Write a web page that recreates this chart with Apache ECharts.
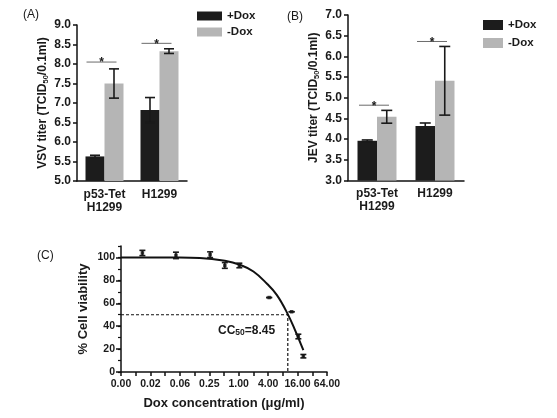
<!DOCTYPE html>
<html><head><meta charset="utf-8">
<script src="https://cdn.jsdelivr.net/npm/echarts@6/dist/echarts.min.js"></script>
<style>html,body{margin:0;padding:0;background:#fff}#c{width:557px;height:418px}</style>
</head><body><div id="c"></div>
<script>
// ---------- Panel A: VSV titer ----------
const categories = ['p53-Tet\nH1299', 'H1299'];
const vsvPlusDox = [5.63, 6.82];
const vsvPlusDoxErr = [0.03, 0.32];
const vsvMinusDox = [7.50, 8.33];
const vsvMinusDoxErr = [0.375, 0.06];
const vsvSigLevel = [8.05, 8.53];
// ---------- Panel B: JEV titer ----------
const jevPlusDox = [3.96, 4.32];
const jevPlusDoxErr = [0.02, 0.07];
const jevMinusDox = [4.54, 5.41];
const jevMinusDoxErr = [0.155, 0.83];
const jevSigLevel = [4.82, 6.36];
// ---------- Panel C: cell viability ----------
const doxConc = [0.0107, 0.052, 0.26, 0.52, 1.03, 4.2, 12.1, 16.6, 21.0];
const viability = [103.9, 101.8, 102.4, 93.0, 93.0, 65.0, 52.6, 31.0, 13.8];
const viabilityErr = [2.3, 2.8, 2.5, 2.5, 2.0, 0, 0, 2.0, 1.5];
const fitConc = [0.00390625, 0.05, 0.16, 0.52, 1.06, 2.0, 3.7, 6.0, 9.9, 14.2, 21.0];
const fitViability = [100, 99.9, 99.5, 97.1, 93.6, 87.7, 77.5, 67.3, 51.2, 36.6, 19.0];
const cc50GuideX = [0.00390625, 10.1, 10.1];
const cc50GuideY = [50, 50, 0];
const xTickLabels = ['0.00', '0.02', '0.06', '0.25', '1.00', '4.00', '16.00', '64.00'];
const xAllTicks = [0.00390625, 0.0078125, 0.015625, 0.03125, 0.0625, 0.125, 0.25, 0.5, 1, 2, 4, 8, 16, 32, 64];
const yMajorTicks = [0, 20, 40, 60, 80, 100];

const FONT = '"Liberation Sans", Arial, sans-serif';
const TXT = '#1a1a1a';
const BLACK = '#1c1c1c';
const GRAY = '#b5b5b5';

function errData(vals, errs) { return vals.map((v, i) => [i, v - errs[i], v + errs[i]]); }
function errRender(offsetPx, capHalf) {
  return function (params, api) {
    const lo = api.coord([api.value(0), api.value(1)]);
    const hi = api.coord([api.value(0), api.value(2)]);
    const x = lo[0] + offsetPx;
    const st = { stroke: '#1a1a1a', lineWidth: 1.6 };
    return { type: 'group', children: [
      { type: 'line', shape: { x1: x, y1: lo[1], x2: x, y2: hi[1] }, style: st },
      { type: 'line', shape: { x1: x - capHalf, y1: hi[1], x2: x + capHalf, y2: hi[1] }, style: st },
      { type: 'line', shape: { x1: x - capHalf, y1: lo[1], x2: x + capHalf, y2: lo[1] }, style: st }
    ]};
  };
}
function sigRender(params, api) {
  const p = api.coord([api.value(0), api.value(1)]);
  return { type: 'group', children: [
    { type: 'line', shape: { x1: p[0] - 18, y1: p[1], x2: p[0] + 12, y2: p[1] },
      style: { stroke: '#6a6a6a', lineWidth: 1 } },
    { type: 'text', x: p[0] - 3, y: p[1] + 1,
      style: { text: '*', fill: TXT, font: 'bold 12px ' + FONT, align: 'center', verticalAlign: 'middle' } }
  ]};
}
const axisLine = { lineStyle: { color: '#111', width: 1.5 } };
const axisTick = { length: 4, lineStyle: { color: '#111', width: 1.5 } };
const valLabel = { color: TXT, fontFamily: FONT, fontWeight: 'bold', fontSize: 12, margin: 6, formatter: v => v.toFixed(1) };
const catLabel = { color: TXT, fontFamily: FONT, fontWeight: 'bold', fontSize: 12, margin: 7, lineHeight: 13 };
function richName(txt1, sub, txt2, size) {
  return {
    name: '{n|' + txt1 + '}{s|' + sub + '}{n|' + txt2 + '}',
    style: { rich: {
      n: { fontFamily: FONT, fontWeight: 'bold', fontSize: size, color: TXT, lineHeight: 15, verticalAlign: 'bottom' },
      s: { fontFamily: FONT, fontWeight: 'bold', fontSize: size * 0.62, color: TXT, lineHeight: 9, verticalAlign: 'bottom' }
    } }
  };
}
const nameA = richName('VSV titer (TCID', '50', '/0.1ml)', 12);
const nameB = richName('JEV titer (TCID', '50', '/0.1ml)', 12);

const legendBase = {
  orient: 'vertical', padding: 0, icon: 'rect', data: ['+Dox', '-Dox'],
  textStyle: { color: TXT, fontFamily: FONT, fontWeight: 'bold', fontSize: 11.5 }
};

const option = {
  animation: false,
  backgroundColor: '#fff',
  legend: [
    Object.assign({}, legendBase, { left: 197, top: 10, itemWidth: 25, itemHeight: 9, itemGap: 4 }),
    Object.assign({}, legendBase, { left: 483, top: 19, itemWidth: 20, itemHeight: 10, itemGap: 6 })
  ],
  grid: [
    { left: 77, top: 25, width: 110, height: 156 },
    { left: 348, top: 15, width: 116, height: 165.5 },
    { left: 121, top: 246, width: 206, height: 126 }
  ],
  xAxis: [
    { type: 'category', gridIndex: 0, data: categories, axisLine, axisTick: Object.assign({ alignWithLabel: true }, axisTick), axisLabel: catLabel },
    { type: 'category', gridIndex: 1, data: categories, axisLine, axisTick: Object.assign({ alignWithLabel: true }, axisTick), axisLabel: catLabel },
    { type: 'log', gridIndex: 2, logBase: 4, min: 0.00390625, max: 64, splitLine: { show: false }, axisLine,
      axisTick: Object.assign({ customValues: xAllTicks }, axisTick),
      axisLabel: { color: TXT, fontFamily: FONT, fontWeight: 'bold', fontSize: 10.5, margin: 7, formatter: (v, i) => xTickLabels[i] ?? '' },
      name: 'Dox concentration (\u03bcg/ml)', nameLocation: 'middle', nameGap: 25,
      nameTextStyle: { color: TXT, fontFamily: FONT, fontWeight: 'bold', fontSize: 13 } }
  ],
  yAxis: [
    { type: 'value', gridIndex: 0, min: 5, max: 9, interval: 0.5, splitLine: { show: false }, axisLine: Object.assign({ show: true }, axisLine), axisTick: Object.assign({ show: true }, axisTick), axisLabel: valLabel,
      name: nameA.name, nameLocation: 'middle', nameGap: 28, nameTextStyle: nameA.style },
    { type: 'value', gridIndex: 1, min: 3, max: 7, interval: 0.5, splitLine: { show: false }, axisLine: Object.assign({ show: true }, axisLine), axisTick: Object.assign({ show: true }, axisTick), axisLabel: valLabel,
      name: nameB.name, nameLocation: 'middle', nameGap: 28, nameTextStyle: nameB.style },
    { type: 'value', gridIndex: 2, min: 0, max: 110, interval: 10, position: 'left', splitLine: { show: false },
      axisLine: Object.assign({ show: true }, axisLine),
      axisTick: { show: true, length: 5, customValues: yMajorTicks, lineStyle: { color: '#111', width: 1.5 } },
      axisLabel: { color: TXT, fontFamily: FONT, fontWeight: 'bold', fontSize: 10.5, margin: 6, customValues: yMajorTicks },
      name: '% Cell viability', nameLocation: 'middle', nameGap: 31,
      nameTextStyle: { color: TXT, fontFamily: FONT, fontWeight: 'bold', fontSize: 13 } },
    { type: 'value', gridIndex: 2, min: 0, max: 110, interval: 10, position: 'left', splitLine: { show: false },
      axisLine: { show: false }, axisLabel: { show: false },
      axisTick: { show: true, length: 3, lineStyle: { color: '#111', width: 1.2 } } }
  ],
  graphic: [
    { type: 'text', left: 23, top: 9, style: { text: '(A)', fill: TXT, font: '12px ' + FONT } },
    { type: 'text', left: 287, top: 11, style: { text: '(B)', fill: TXT, font: '12px ' + FONT } },
    { type: 'text', left: 37, top: 250, style: { text: '(C)', fill: TXT, font: '12px ' + FONT } },
    { type: 'text', left: 218, top: 325, style: {
      text: '{n|CC}{s|50}{n|=8.45}',
      rich: {
        n: { fontFamily: FONT, fontWeight: 'bold', fontSize: 12, fill: TXT, lineHeight: 14, verticalAlign: 'bottom' },
        s: { fontFamily: FONT, fontWeight: 'bold', fontSize: 8.5, fill: TXT, lineHeight: 11, verticalAlign: 'bottom' }
      } } }
  ],
  series: [
    { type: 'bar', name: '+Dox', xAxisIndex: 0, yAxisIndex: 0, data: vsvPlusDox, barWidth: 19, barGap: '0%', itemStyle: { color: BLACK } },
    { type: 'bar', name: '-Dox', xAxisIndex: 0, yAxisIndex: 0, data: vsvMinusDox, barWidth: 19, barGap: '0%', itemStyle: { color: GRAY } },
    { type: 'custom', xAxisIndex: 0, yAxisIndex: 0, data: errData(vsvPlusDox, vsvPlusDoxErr), encode: { x: 0, y: [1, 2] }, renderItem: errRender(-9.5, 5), z: 3 },
    { type: 'custom', xAxisIndex: 0, yAxisIndex: 0, data: errData(vsvMinusDox, vsvMinusDoxErr), encode: { x: 0, y: [1, 2] }, renderItem: errRender(9.5, 5), z: 3 },
    { type: 'custom', xAxisIndex: 0, yAxisIndex: 0, data: vsvSigLevel.map((v, i) => [i, v]), encode: { x: 0, y: 1 }, renderItem: sigRender, z: 3 },

    { type: 'bar', name: '+Dox', xAxisIndex: 1, yAxisIndex: 1, data: jevPlusDox, barWidth: 19.5, barGap: '0%', itemStyle: { color: BLACK } },
    { type: 'bar', name: '-Dox', xAxisIndex: 1, yAxisIndex: 1, data: jevMinusDox, barWidth: 19.5, barGap: '0%', itemStyle: { color: GRAY } },
    { type: 'custom', xAxisIndex: 1, yAxisIndex: 1, data: errData(jevPlusDox, jevPlusDoxErr), encode: { x: 0, y: [1, 2] }, renderItem: errRender(-9.75, 5.5), z: 3 },
    { type: 'custom', xAxisIndex: 1, yAxisIndex: 1, data: errData(jevMinusDox, jevMinusDoxErr), encode: { x: 0, y: [1, 2] }, renderItem: errRender(9.75, 5.5), z: 3 },
    { type: 'custom', xAxisIndex: 1, yAxisIndex: 1, data: jevSigLevel.map((v, i) => [i, v]), encode: { x: 0, y: 1 }, renderItem: sigRender, z: 3 },

    { type: 'line', xAxisIndex: 2, yAxisIndex: 2, data: fitConc.map((c, i) => [c, fitViability[i]]), smooth: 0.4, symbol: 'none',
      lineStyle: { color: '#111', width: 2 }, z: 3 },
    { type: 'line', xAxisIndex: 2, yAxisIndex: 2, data: cc50GuideX.map((c, i) => [c, cc50GuideY[i]]), symbol: 'none',
      lineStyle: { color: '#111', width: 1.2, type: [3, 2] }, z: 2 },
    { type: 'custom', xAxisIndex: 2, yAxisIndex: 2, data: doxConc.map((c, i) => [c, viability[i] - viabilityErr[i], viability[i] + viabilityErr[i]]),
      encode: { x: 0, y: [1, 2] }, renderItem: errRender(0, 3), z: 4 },
    { type: 'scatter', xAxisIndex: 2, yAxisIndex: 2, data: doxConc.map((c, i) => [c, viability[i]]), symbol: 'rect', symbolSize: 3.5,
      itemStyle: { color: '#111' }, z: 5 }
  ]
};
const chart = echarts.init(document.getElementById('c'), null, { renderer: 'canvas' });
chart.setOption(option);
</script>
</body></html>
